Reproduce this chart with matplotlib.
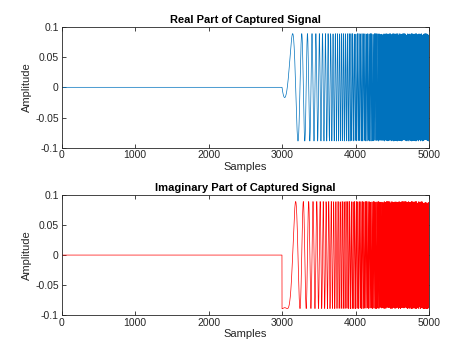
import numpy as np
import matplotlib
matplotlib.use('Agg')
import matplotlib.pyplot as plt

plt.rcParams['font.family'] = ['Liberation Sans', 'DejaVu Sans']
plt.rcParams['axes.unicode_minus'] = False

# values
n_samples = 5000
chirp_start = 3000          # sample where the chirp begins
amp = 0.089                 # chirp amplitude
phase0 = -np.pi / 2         # starting phase (imag at -amp, real near 0)
f_start = -0.0017           # cycles/sample at the chirp start
sweep = 2.37e-5             # cycles/sample^2 (quadratic phase term)

xticks = [0, 1000, 2000, 3000, 4000, 5000]
yticks = [-0.1, -0.05, 0, 0.05, 0.1]
ytick_labels = ['-0.1', '-0.05', '0', '0.05', '0.1']
titles = ['Real Part of Captured Signal', 'Imaginary Part of Captured Signal']
colors = ['#0072BD', '#FF0000']

n = np.arange(n_samples)
t = np.clip(n - chirp_start, 0, None)
phase = phase0 + 2 * np.pi * (f_start * t + sweep * t**2)
sig = np.where(n >= chirp_start, amp * np.exp(1j * phase), 0)
parts = [sig.real, sig.imag]

fig = plt.figure(figsize=(4.74, 3.55), dpi=100)
boxes = [[0.130, 0.584, 0.775, 0.340], [0.130, 0.112, 0.775, 0.339]]
gray = '#262626'

for box, y, ttl, col in zip(boxes, parts, titles, colors):
    ax = fig.add_axes(box)
    ax.plot(n, y, color=col, lw=0.5)
    ax.set_xlim(0, 5000)
    ax.set_ylim(-0.1, 0.1)
    ax.set_xticks(xticks)
    ax.set_yticks(yticks)
    ax.set_yticklabels(ytick_labels)
    ax.tick_params(direction='in', top=True, right=True, length=3, width=0.6,
                   labelsize=7.5, colors=gray, pad=2)
    for s in ax.spines.values():
        s.set_color(gray)
        s.set_linewidth(0.6)
    ax.set_title(ttl, fontsize=8, fontweight='bold', pad=3)
    ax.set_xlabel('Samples', fontsize=8, color=gray, labelpad=1)
    ax.set_ylabel('Amplitude', fontsize=8, color=gray, labelpad=2)

fig.savefig('out.png', dpi=100)
